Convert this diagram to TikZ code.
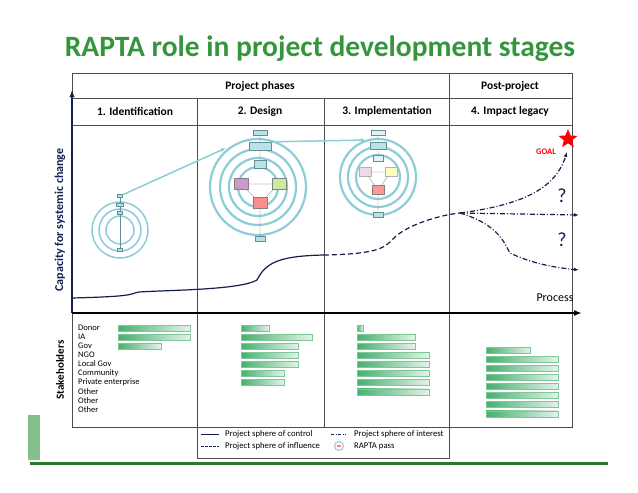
\documentclass[tikz,border=0pt]{standalone}
\usepackage{fontspec}
\setmainfont{Carlito}
\usetikzlibrary{shapes.geometric,arrows.meta}
\definecolor{ttl}{RGB}{52,150,60}
\definecolor{navy}{RGB}{20,30,80}
\definecolor{lb}{RGB}{140,205,215}
\definecolor{barg}{RGB}{70,175,110}
\tikzset{
 cell/.style={draw=black!70,line width=0.6pt},
 hdr/.style={font=\bfseries\fontsize{11.5}{13}\selectfont},
 stk/.style={font=\fontsize{8.5}{9}\selectfont,anchor=west,inner sep=0},
 bar/.style={left color=barg,right color=barg!15,draw=barg!70,line width=0.3pt},
 ring/.style={draw=lb,line width=2.2pt},
 fbox/.style={draw=lb!70!black,fill=lb!60,line width=0.3pt,minimum width=14pt,minimum height=5pt,inner sep=0},
 ctrl/.style={navy,line width=1.2pt},
 infl/.style={navy,line width=1.2pt,dash pattern=on 5pt off 3pt},
 intr/.style={navy,line width=1.2pt,dash pattern=on 5pt off 2pt on 1pt off 2pt},
 leg/.style={font=\fontsize{8.7}{10}\selectfont,anchor=west,inner sep=0}
}
\begin{document}
\begin{tikzpicture}[x=1pt,y=-1pt]
\useasboundingbox (0,0) rectangle (638,493);
\fill[white] (0,0) rectangle (638,493);
\node[font=\bfseries\fontsize{29.5}{31}\selectfont,text=ttl] (title) at (320,49) {RAPTA role in project development stages};
% frame
\draw[cell] (72,73) rectangle (572,427);
\draw[cell] (72,98) -- (572,98) (72,125) -- (572,125);
\draw[cell] (449,73) -- (449,427);
\foreach \x in {197,324} \draw[cell] (\x,98) -- (\x,427);
\draw[cell] (197,427) rectangle (449,458);
\node[hdr] (pp) at (260,86) {Project phases};
\node[hdr] (post) at (510,86) {Post-project};
\node[hdr] (h1) at (135,111) {1. Identification};
\node[hdr] (h2) at (260,111) {2. Design};
\node[hdr] (h3) at (387,111) {3. Implementation};
\node[hdr] (h4) at (510,111) {4. Impact legacy};
% axes
\draw[navy,line width=2pt,-{Latex[length=7pt]}] (72,313) -- (72,90);
\draw[black,line width=2.2pt,-{Latex[length=8pt]}] (72,313) -- (582,313);
\node[rotate=90,font=\bfseries\fontsize{12}{13}\selectfont,text=navy] (cap) at (60,220) {Capacity for systemic change};
\node[rotate=90,font=\bfseries\fontsize{11}{12}\selectfont] (stk) at (60,370) {Stakeholders};
\node[font=\fontsize{12}{13}\selectfont] (proc) at (555,298) {Process};
% rings
\foreach \r in {14,21,28} \draw[ring,line width=1.5pt] (120,230) circle (\r);
\foreach \r in {20,29,38,48} \draw[ring] (258,187) circle (\r);
\foreach \r in {22,30,38} \draw[ring] (378,177) circle (\r);
% flowcharts (schematic)
\node[fbox,minimum width=5pt,minimum height=3pt] (a1) at (120,196) {};
\node[fbox,minimum width=7pt,minimum height=3pt] (a2) at (120,205) {};
\node[fbox,minimum width=5pt,minimum height=3pt] (a3) at (120,213) {};
\node[fbox,minimum width=5pt,minimum height=3pt] (a4) at (120,250) {};
\draw[lb!70!black,line width=0.3pt] (a1)--(a2)--(a3)--(a4);
\node[fbox] (d1) at (260,133) {};
\node[fbox,minimum width=22pt,minimum height=8pt] (d2) at (260,146) {};
\node[fbox,minimum width=12pt,minimum height=8pt] (d3) at (260,164) {};
\node[draw=black!50,fill=violet!40,minimum width=14pt,minimum height=11pt,inner sep=0] (d4) at (241,184) {};
\node[draw=black!50,fill=yellow!50!green!40,minimum width=14pt,minimum height=11pt,inner sep=0] (d5) at (279,184) {};
\node[draw=black!50,fill=red!45,minimum width=14pt,minimum height=11pt,inner sep=0] (d6) at (260,203) {};
\node[fbox,minimum width=10pt] (d7) at (260,239) {};
\draw[black!60,line width=0.3pt] (d1)--(d2)--(d3) (d4)--(d6) (d5)--(d6) (d6)--(d7) (d4)--(d5);
\node[fbox,fill=lb!25] (i1) at (378,133) {};
\node[fbox,minimum width=16pt,minimum height=7pt] (i2) at (378,146) {};
\node[fbox,fill=lb!25,minimum width=10pt,minimum height=6pt] (i3) at (378,158) {};
\node[draw=black!30,fill=violet!15,minimum width=12pt,minimum height=9pt,inner sep=0] (i4) at (365,172) {};
\node[draw=black!30,fill=yellow!25,minimum width=12pt,minimum height=9pt,inner sep=0] (i5) at (391,172) {};
\node[draw=black!50,fill=red!40,minimum width=12pt,minimum height=9pt,inner sep=0] (i6) at (378,190) {};
\node[fbox,minimum width=10pt] (i7) at (378,215) {};
\draw[black!50,line width=0.3pt] (i1)--(i2)--(i3) (i4)--(i6) (i5)--(i6) (i6)--(i7) (i4)--(i5);
% rapta pass arrows
\draw[lb,line width=1.5pt,-{Latex[length=5pt]}] (a1) -- (226,148);
\draw[lb,line width=1.5pt,-{Latex[length=5pt]}] (d2.north east) -- (366,140);
% curves
\coordinate (c0) at (72,298);
\coordinate (c1) at (324,255);
\coordinate (c2) at (460,213);
\draw[ctrl] (c0) .. controls (110,297) and (128,296) .. (135,293) -- (139,292) .. controls (170,290) and (240,290) .. (257,280) .. controls (266,262) and (280,256) .. (c1);
\draw[infl] (c1) .. controls (370,254) and (383,250) .. (392,240) .. controls (405,225) and (440,215) .. (c2);
\draw[intr,-{Latex[length=5pt]}] (c2) .. controls (520,205) and (555,190) .. (567,152);
\draw[intr,-{Latex[length=5pt]}] (c2) -- (579,215);
\draw[intr,-{Latex[length=5pt]}] (c2) .. controls (500,225) and (505,245) .. (510,253) .. controls (535,265) and (560,268) .. (579,270);
\node[star,star points=5,star point ratio=2.3,fill=red,minimum size=20pt,inner sep=0] (goal) at (568,139) {};
\node[font=\bfseries\fontsize{8.5}{9}\selectfont,text=red] (gl) at (546,152) {GOAL};
\node[font=\fontsize{20}{20}\selectfont,text=navy] (q1) at (562,196) {?};
\node[font=\fontsize{20}{20}\selectfont,text=navy] (q2) at (562,240) {?};
% stakeholders
\foreach \t [count=\i from 0] in {Donor,IA,Gov,NGO,Local Gov,Community,Private enterprise,Other,Other,Other}
  \node[stk] (s\i) at (78,{327.5+\i*9.1}) {\t};
\foreach \i/\e in {0/190,1/190,2/161} \draw[bar] (118,{325+\i*9.1}) rectangle (\e,{331+\i*9.1});
\foreach \i/\e in {0/269,1/312,2/298,3/298,4/298,5/284,6/284} \draw[bar] (241,{325+\i*9.1}) rectangle (\e,{331+\i*9.1});
\foreach \i/\e in {0/363,1/415,2/415,3/429,4/429,5/429,6/429,7/429} \draw[bar] (357,{325+\i*9.1}) rectangle (\e,{331+\i*9.1});
\foreach \i/\e in {0/530,1/558,2/558,3/558,4/558,5/558,6/558,7/558} \draw[bar] (486,{347+\i*9.1}) rectangle (\e,{353+\i*9.1});
% legend
\coordinate (l1a) at (201,434); \coordinate (l1b) at (219,434);
\coordinate (l2a) at (201,446); \coordinate (l2b) at (219,446);
\coordinate (l3a) at (331,434); \coordinate (l3b) at (346,434);
\draw[ctrl,line width=0.9pt] (l1a) -- (l1b);
\draw[infl,line width=0.9pt,dash pattern=on 2.5pt off 1.5pt] (l2a) -- (l2b);
\draw[intr,line width=0.9pt,dash pattern=on 3pt off 1.5pt on 1pt off 1.5pt] (l3a) -- (l3b);
\node[leg] (t1) at (225,434) {Project sphere of control};
\node[leg] (t2) at (225,446) {Project sphere of influence};
\node[leg] (t3) at (354,434) {Project sphere of interest};
\node[leg] (t4) at (354,446) {RAPTA pass};
\node[draw=lb,line width=1pt,circle,minimum size=9pt,inner sep=0] (ic) at (339,446) {};
\node[fill=red!50,minimum width=4pt,minimum height=2.5pt,inner sep=0] (icc) at (339,446) {};
% green slide bar
\fill[ttl!80!black] (30,462) rectangle (608,465);
\fill[ttl!60] (28,415) rectangle (40,460);
\end{tikzpicture}
\end{document}
